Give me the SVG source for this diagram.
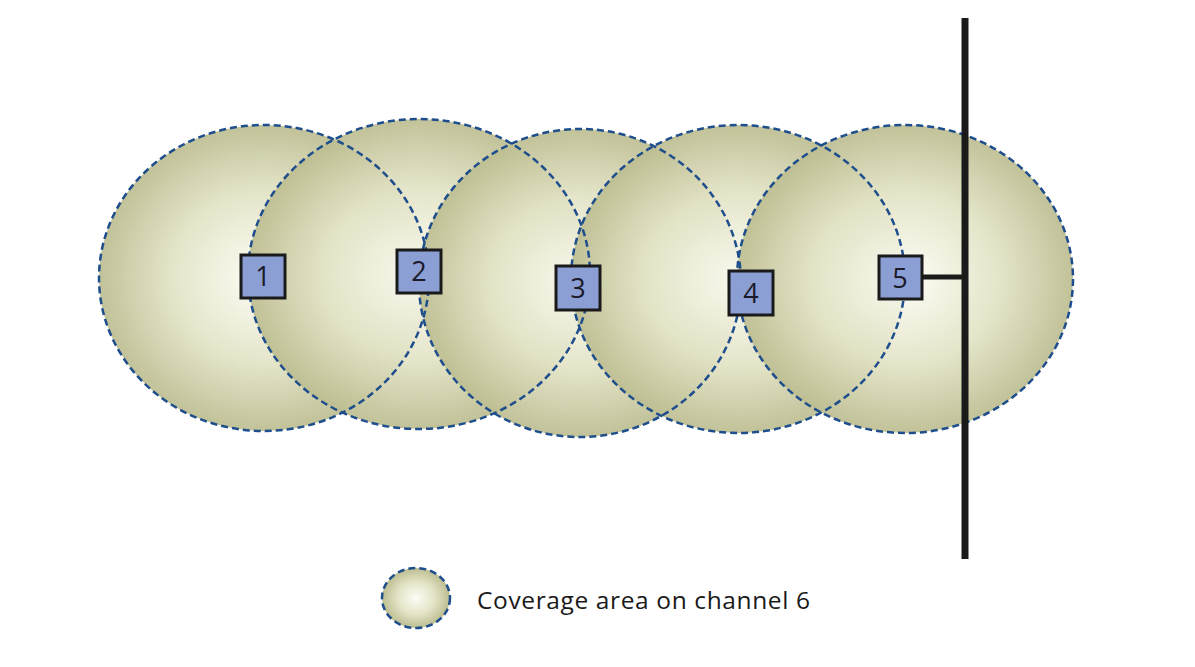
<svg xmlns="http://www.w3.org/2000/svg" width="1195" height="667" viewBox="0 0 1195 667">
<defs>
<radialGradient id="g"><stop offset="0" stop-color="#fdfdf6"/><stop offset="0.55" stop-color="#e3e3c6"/><stop offset="1" stop-color="#bcbd90"/></radialGradient>
</defs>
<style>
.f{fill:url(#g);opacity:0.92}
.o{fill:none;stroke:#1f4e8c;stroke-width:2.5;stroke-dasharray:7 4}
.b rect{fill:#8c9fd4;stroke:#1a1a1a;stroke-width:3}
.b text{font-family:"Open Sans","Liberation Sans",sans-serif;font-size:27px;fill:#1a1a2a;text-anchor:middle}
.l{stroke:#1a1a1a;fill:none}
</style>
<rect width="1195" height="667" fill="#fff"/>
<g id="coverage">
<ellipse class="f" cx="264" cy="278" rx="165" ry="153"/>
<ellipse class="f" cx="419" cy="274" rx="171" ry="155"/>
<ellipse class="f" cx="580" cy="283" rx="161" ry="154"/>
<ellipse class="f" cx="738" cy="279" rx="167" ry="154"/>
<ellipse class="f" cx="905" cy="279" rx="168" ry="154"/>
<ellipse class="o" cx="264" cy="278" rx="165" ry="153"/>
<ellipse class="o" cx="419" cy="274" rx="171" ry="155"/>
<ellipse class="o" cx="580" cy="283" rx="161" ry="154"/>
<ellipse class="o" cx="738" cy="279" rx="167" ry="154"/>
<ellipse class="o" cx="905" cy="279" rx="168" ry="154"/>
</g>
<g id="connectors">
<line class="l" x1="965" y1="18" x2="965" y2="559" stroke-width="7"/>
<line class="l" x1="921" y1="277" x2="965" y2="277" stroke-width="5"/>
</g>
<g id="ap1" class="b"><rect x="241" y="255" width="44" height="43"/><text x="263" y="286">1</text></g>
<g id="ap2" class="b"><rect x="397" y="250" width="44" height="43"/><text x="419" y="281">2</text></g>
<g id="ap3" class="b"><rect x="556" y="266" width="44" height="44"/><text x="578" y="298">3</text></g>
<g id="ap4" class="b"><rect x="729" y="271" width="44" height="44"/><text x="751" y="303">4</text></g>
<g id="ap5" class="b"><rect x="879" y="256" width="43" height="43"/><text x="900" y="288">5</text></g>
<g id="legend">
<ellipse cx="416" cy="598" rx="34" ry="30" fill="url(#g)"/>
<ellipse class="o" cx="416" cy="598" rx="34" ry="30"/>
<text x="477" y="609" font-family="'Open Sans','Liberation Sans',sans-serif" font-size="24.5" textLength="333" fill="#1a1a1a">Coverage area on channel 6</text>
</g>
</svg>
